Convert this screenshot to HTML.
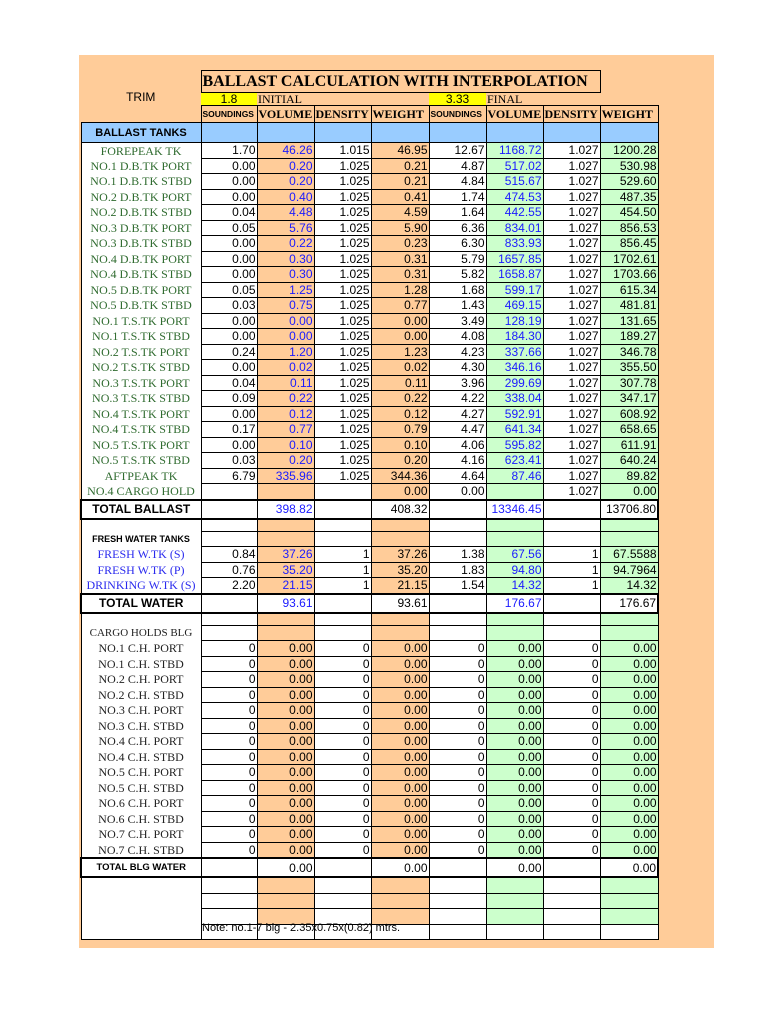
<!DOCTYPE html>
<html><head><meta charset="utf-8"><style>
body{margin:0;width:768px;height:1024px;background:#fff;position:relative;font-family:"Liberation Sans",sans-serif;}
#bg{position:absolute;left:79px;top:55px;width:635px;height:893px;background:#FFCC99;}
table{position:absolute;left:80px;top:70px;width:577px;border-collapse:collapse;table-layout:fixed;font-size:12px;}
td{padding:0 1px;white-space:nowrap;overflow:hidden;text-align:right;line-height:12px;}
tr.d td,tr.e td,tr.t td{background:#fff;}
tr.d td{height:14.5px;border:1px solid #000;}
tr.d td.l,tr.e td.l{border-top:none;border-bottom:none;}
td.l{text-align:center !important;font-family:"Liberation Serif",serif;color:#2f6b2f;border-left:1.5px solid #000 !important;border-right:1px solid #000;}
tr td.p{background:#FFCC99}tr td.g{background:#CCFFCC}
.b{color:#1a1aff}
tr.t td{height:17px;border-top:2px solid #000;border-bottom:2px solid #000;border-left:1px solid #000;border-right:1px solid #000;}
tr.t td:first-child{border-left:2px solid #000;}tr.t td:last-child{border-right:2px solid #000;}
tr.e td{height:11px;border:1px solid #000;}
.hd td{border:1px solid #000;font-family:"Liberation Serif",serif;font-weight:bold;font-size:12px;text-align:left;padding:0 1px;background:#FFCC99;}
.hd td.s{font-family:"Liberation Sans",sans-serif;font-size:8.5px;}
.blue td{background:#99CCFF;border:1px solid #000;height:19px;}
td.bs{font-weight:bold;font-family:"Liberation Sans",sans-serif;color:#000 !important;text-align:center}
</style></head><body>
<div id="bg"></div>
<table>
<colgroup><col style="width:120px"><col style="width:56px"><col style="width:57px"><col style="width:57px"><col style="width:58px"><col style="width:57px"><col style="width:57px"><col style="width:57px"><col style="width:58px"></colgroup>
<tr style="height:22px"><td rowspan="3" style="background:#FFCC99;text-align:center;vertical-align:middle;color:#000;padding-top:2px">TRIM</td><td colspan="7" style="border:1px solid #000;text-align:left;font-family:'Liberation Serif',serif;font-weight:bold;font-size:16px;padding-left:1px;line-height:20px">BALLAST CALCULATION WITH INTERPOLATION</td><td></td></tr>
<tr style="height:13px"><td style="background:#FFFF00;text-align:center;padding:0">1.8</td><td colspan="3" style="text-align:left;font-family:'Liberation Serif',serif">INITIAL</td><td style="background:#FFFF00;text-align:center">3.33</td><td colspan="3" style="text-align:left;font-family:'Liberation Serif',serif">FINAL</td></tr>
<tr class="hd" style="height:17px"><td class="s">SOUNDINGS</td><td>VOLUME</td><td>DENSITY</td><td>WEIGHT</td><td class="s">SOUNDINGS</td><td>VOLUME</td><td>DENSITY</td><td>WEIGHT</td></tr>
<tr class="blue"><td class="bs" style="background:#99CCFF;font-size:11px;border-left:1.5px solid #000">BALLAST TANKS</td><td></td><td></td><td></td><td></td><td></td><td></td><td></td><td></td></tr>
<tr class="d"><td class="l">FOREPEAK TK</td><td>1.70</td><td class="p b">46.26</td><td>1.015</td><td class="p">46.95</td><td>12.67</td><td class="g b">1168.72</td><td>1.027</td><td class="g">1200.28</td></tr>
<tr class="d"><td class="l">NO.1 D.B.TK PORT</td><td>0.00</td><td class="p b">0.20</td><td>1.025</td><td class="p">0.21</td><td>4.87</td><td class="g b">517.02</td><td>1.027</td><td class="g">530.98</td></tr>
<tr class="d"><td class="l">NO.1 D.B.TK STBD</td><td>0.00</td><td class="p b">0.20</td><td>1.025</td><td class="p">0.21</td><td>4.84</td><td class="g b">515.67</td><td>1.027</td><td class="g">529.60</td></tr>
<tr class="d"><td class="l">NO.2 D.B.TK PORT</td><td>0.00</td><td class="p b">0.40</td><td>1.025</td><td class="p">0.41</td><td>1.74</td><td class="g b">474.53</td><td>1.027</td><td class="g">487.35</td></tr>
<tr class="d"><td class="l">NO.2 D.B.TK STBD</td><td>0.04</td><td class="p b">4.48</td><td>1.025</td><td class="p">4.59</td><td>1.64</td><td class="g b">442.55</td><td>1.027</td><td class="g">454.50</td></tr>
<tr class="d"><td class="l">NO.3 D.B.TK PORT</td><td>0.05</td><td class="p b">5.76</td><td>1.025</td><td class="p">5.90</td><td>6.36</td><td class="g b">834.01</td><td>1.027</td><td class="g">856.53</td></tr>
<tr class="d"><td class="l">NO.3 D.B.TK STBD</td><td>0.00</td><td class="p b">0.22</td><td>1.025</td><td class="p">0.23</td><td>6.30</td><td class="g b">833.93</td><td>1.027</td><td class="g">856.45</td></tr>
<tr class="d"><td class="l">NO.4 D.B.TK PORT</td><td>0.00</td><td class="p b">0.30</td><td>1.025</td><td class="p">0.31</td><td>5.79</td><td class="g b">1657.85</td><td>1.027</td><td class="g">1702.61</td></tr>
<tr class="d"><td class="l">NO.4 D.B.TK STBD</td><td>0.00</td><td class="p b">0.30</td><td>1.025</td><td class="p">0.31</td><td>5.82</td><td class="g b">1658.87</td><td>1.027</td><td class="g">1703.66</td></tr>
<tr class="d"><td class="l">NO.5 D.B.TK PORT</td><td>0.05</td><td class="p b">1.25</td><td>1.025</td><td class="p">1.28</td><td>1.68</td><td class="g b">599.17</td><td>1.027</td><td class="g">615.34</td></tr>
<tr class="d"><td class="l">NO.5 D.B.TK STBD</td><td>0.03</td><td class="p b">0.75</td><td>1.025</td><td class="p">0.77</td><td>1.43</td><td class="g b">469.15</td><td>1.027</td><td class="g">481.81</td></tr>
<tr class="d"><td class="l">NO.1 T.S.TK PORT</td><td>0.00</td><td class="p b">0.00</td><td>1.025</td><td class="p">0.00</td><td>3.49</td><td class="g b">128.19</td><td>1.027</td><td class="g">131.65</td></tr>
<tr class="d"><td class="l">NO.1 T.S.TK STBD</td><td>0.00</td><td class="p b">0.00</td><td>1.025</td><td class="p">0.00</td><td>4.08</td><td class="g b">184.30</td><td>1.027</td><td class="g">189.27</td></tr>
<tr class="d"><td class="l">NO.2 T.S.TK PORT</td><td>0.24</td><td class="p b">1.20</td><td>1.025</td><td class="p">1.23</td><td>4.23</td><td class="g b">337.66</td><td>1.027</td><td class="g">346.78</td></tr>
<tr class="d"><td class="l">NO.2 T.S.TK STBD</td><td>0.00</td><td class="p b">0.02</td><td>1.025</td><td class="p">0.02</td><td>4.30</td><td class="g b">346.16</td><td>1.027</td><td class="g">355.50</td></tr>
<tr class="d"><td class="l">NO.3 T.S.TK PORT</td><td>0.04</td><td class="p b">0.11</td><td>1.025</td><td class="p">0.11</td><td>3.96</td><td class="g b">299.69</td><td>1.027</td><td class="g">307.78</td></tr>
<tr class="d"><td class="l">NO.3 T.S.TK STBD</td><td>0.09</td><td class="p b">0.22</td><td>1.025</td><td class="p">0.22</td><td>4.22</td><td class="g b">338.04</td><td>1.027</td><td class="g">347.17</td></tr>
<tr class="d"><td class="l">NO.4 T.S.TK PORT</td><td>0.00</td><td class="p b">0.12</td><td>1.025</td><td class="p">0.12</td><td>4.27</td><td class="g b">592.91</td><td>1.027</td><td class="g">608.92</td></tr>
<tr class="d"><td class="l">NO.4 T.S.TK STBD</td><td>0.17</td><td class="p b">0.77</td><td>1.025</td><td class="p">0.79</td><td>4.47</td><td class="g b">641.34</td><td>1.027</td><td class="g">658.65</td></tr>
<tr class="d"><td class="l">NO.5 T.S.TK PORT</td><td>0.00</td><td class="p b">0.10</td><td>1.025</td><td class="p">0.10</td><td>4.06</td><td class="g b">595.82</td><td>1.027</td><td class="g">611.91</td></tr>
<tr class="d"><td class="l">NO.5 T.S.TK STBD</td><td>0.03</td><td class="p b">0.20</td><td>1.025</td><td class="p">0.20</td><td>4.16</td><td class="g b">623.41</td><td>1.027</td><td class="g">640.24</td></tr>
<tr class="d"><td class="l">AFTPEAK TK</td><td>6.79</td><td class="p b">335.96</td><td>1.025</td><td class="p">344.36</td><td>4.64</td><td class="g b">87.46</td><td>1.027</td><td class="g">89.82</td></tr>
<tr class="d"><td class="l">NO.4 CARGO HOLD</td><td></td><td class="p"></td><td></td><td class="p">0.00</td><td>0.00</td><td class="g"></td><td>1.027</td><td class="g">0.00</td></tr>
<tr class="t"><td class="bs" style="font-size:12px">TOTAL BALLAST</td><td></td><td class="b">398.82</td><td></td><td>408.32</td><td></td><td class="b">13346.45</td><td></td><td>13706.80</td></tr>
<tr class="e"><td class="l"></td><td></td><td class="p"></td><td></td><td class="p"></td><td></td><td class="g"></td><td></td><td class="g"></td></tr>
<tr class="d"><td class="l bs" style="font-size:9px">FRESH WATER TANKS</td><td></td><td class="p"></td><td></td><td class="p"></td><td></td><td class="g"></td><td></td><td class="g"></td></tr>
<tr class="d"><td class="l" style="color:#2a2aee">FRESH W.TK (S)</td><td>0.84</td><td class="p b">37.26</td><td>1</td><td class="p">37.26</td><td>1.38</td><td class="g b">67.56</td><td>1</td><td class="g">67.5588</td></tr>
<tr class="d"><td class="l" style="color:#2a2aee">FRESH W.TK (P)</td><td>0.76</td><td class="p b">35.20</td><td>1</td><td class="p">35.20</td><td>1.83</td><td class="g b">94.80</td><td>1</td><td class="g">94.7964</td></tr>
<tr class="d"><td class="l" style="color:#2a2aee">DRINKING W.TK (S)</td><td>2.20</td><td class="p b">21.15</td><td>1</td><td class="p">21.15</td><td>1.54</td><td class="g b">14.32</td><td>1</td><td class="g">14.32</td></tr>
<tr class="t"><td class="bs" style="font-size:12px">TOTAL WATER</td><td></td><td class="b">93.61</td><td></td><td>93.61</td><td></td><td class="b">176.67</td><td></td><td>176.67</td></tr>
<tr class="e"><td class="l"></td><td></td><td class="p"></td><td></td><td class="p"></td><td></td><td class="g"></td><td></td><td class="g"></td></tr>
<tr class="d"><td class="l" style="color:#222;font-size:11px">CARGO HOLDS BLG</td><td></td><td class="p"></td><td></td><td class="p"></td><td></td><td class="g"></td><td></td><td class="g"></td></tr>
<tr class="d"><td class="l" style="color:#222">NO.1 C.H. PORT</td><td>0</td><td class="p">0.00</td><td>0</td><td class="p">0.00</td><td>0</td><td class="g">0.00</td><td>0</td><td class="g">0.00</td></tr>
<tr class="d"><td class="l" style="color:#222">NO.1 C.H. STBD</td><td>0</td><td class="p">0.00</td><td>0</td><td class="p">0.00</td><td>0</td><td class="g">0.00</td><td>0</td><td class="g">0.00</td></tr>
<tr class="d"><td class="l" style="color:#222">NO.2 C.H. PORT</td><td>0</td><td class="p">0.00</td><td>0</td><td class="p">0.00</td><td>0</td><td class="g">0.00</td><td>0</td><td class="g">0.00</td></tr>
<tr class="d"><td class="l" style="color:#222">NO.2 C.H. STBD</td><td>0</td><td class="p">0.00</td><td>0</td><td class="p">0.00</td><td>0</td><td class="g">0.00</td><td>0</td><td class="g">0.00</td></tr>
<tr class="d"><td class="l" style="color:#222">NO.3 C.H. PORT</td><td>0</td><td class="p">0.00</td><td>0</td><td class="p">0.00</td><td>0</td><td class="g">0.00</td><td>0</td><td class="g">0.00</td></tr>
<tr class="d"><td class="l" style="color:#222">NO.3 C.H. STBD</td><td>0</td><td class="p">0.00</td><td>0</td><td class="p">0.00</td><td>0</td><td class="g">0.00</td><td>0</td><td class="g">0.00</td></tr>
<tr class="d"><td class="l" style="color:#222">NO.4 C.H. PORT</td><td>0</td><td class="p">0.00</td><td>0</td><td class="p">0.00</td><td>0</td><td class="g">0.00</td><td>0</td><td class="g">0.00</td></tr>
<tr class="d"><td class="l" style="color:#222">NO.4 C.H. STBD</td><td>0</td><td class="p">0.00</td><td>0</td><td class="p">0.00</td><td>0</td><td class="g">0.00</td><td>0</td><td class="g">0.00</td></tr>
<tr class="d"><td class="l" style="color:#222">NO.5 C.H. PORT</td><td>0</td><td class="p">0.00</td><td>0</td><td class="p">0.00</td><td>0</td><td class="g">0.00</td><td>0</td><td class="g">0.00</td></tr>
<tr class="d"><td class="l" style="color:#222">NO.5 C.H. STBD</td><td>0</td><td class="p">0.00</td><td>0</td><td class="p">0.00</td><td>0</td><td class="g">0.00</td><td>0</td><td class="g">0.00</td></tr>
<tr class="d"><td class="l" style="color:#222">NO.6 C.H. PORT</td><td>0</td><td class="p">0.00</td><td>0</td><td class="p">0.00</td><td>0</td><td class="g">0.00</td><td>0</td><td class="g">0.00</td></tr>
<tr class="d"><td class="l" style="color:#222">NO.6 C.H. STBD</td><td>0</td><td class="p">0.00</td><td>0</td><td class="p">0.00</td><td>0</td><td class="g">0.00</td><td>0</td><td class="g">0.00</td></tr>
<tr class="d"><td class="l" style="color:#222">NO.7 C.H. PORT</td><td>0</td><td class="p">0.00</td><td>0</td><td class="p">0.00</td><td>0</td><td class="g">0.00</td><td>0</td><td class="g">0.00</td></tr>
<tr class="d"><td class="l" style="color:#222">NO.7 C.H. STBD</td><td>0</td><td class="p">0.00</td><td>0</td><td class="p">0.00</td><td>0</td><td class="g">0.00</td><td>0</td><td class="g">0.00</td></tr>
<tr class="t"><td class="bs" style="font-size:9.5px">TOTAL BLG WATER</td><td></td><td>0.00</td><td></td><td>0.00</td><td></td><td>0.00</td><td></td><td>0.00</td></tr>
<tr class="d"><td class="l"></td><td></td><td class="p"></td><td></td><td class="p"></td><td></td><td class="g"></td><td></td><td class="g"></td></tr>
<tr class="d"><td class="l"></td><td></td><td class="p"></td><td></td><td class="p"></td><td></td><td class="g"></td><td></td><td class="g"></td></tr>
<tr class="d"><td class="l"></td><td></td><td class="p"></td><td></td><td class="p"></td><td></td><td class="g"></td><td></td><td class="g"></td></tr>
<tr class="d" style="height:13px"><td class="l" style="border-bottom:1.5px solid #000 !important;height:11px"></td><td style="height:11px"></td><td></td><td></td><td></td><td></td><td></td><td></td><td></td></tr>
</table>
<div style="position:absolute;left:202px;top:922px;font-size:11px;line-height:12px;white-space:nowrap">Note: no.1-7 blg - 2.35x0.75x(0.82) mtrs.</div>
</body></html>
